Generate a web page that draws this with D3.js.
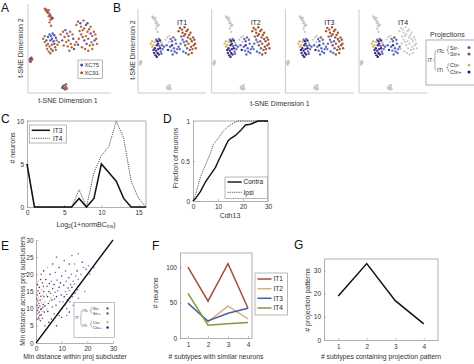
<!DOCTYPE html>
<html><head><meta charset="utf-8">
<script src="https://cdn.jsdelivr.net/npm/d3@7"></script>
<style>body{margin:0;background:#fff}svg{display:block}</style>
</head><body>
<svg id="c" width="474" height="364"></svg>
<script>
// ---------------- DATA ----------------
// t-SNE layout (normalised units, x right, y down), sample of origin for panel A
const tsneTop = [[20,3,"91"],[22,4,"91"],[23,6,"75"],[25,5,"91"],[24,8,"91"],[26,9,"91"],[27,11,"75"],[25,12,"91"],[28,13,"91"],[29,15,"91"],[27,16,"91"],[30,14,"75"],[26,19,"91"],[28,23,"91"],[23,7,"91"],[21,5,"91"]];
const tsneLeft = [[1,62,"91"],[2,61,"75"],[3,63,"91"],[2,65,"75"],[4,62,"91"],[1,64,"91"],[3,60,"75"]];
const tsneBottom = [[43,93,"91"],[45,92,"75"],[47,94,"91"],[44,96,"91"],[46,97,"75"],[48,96,"91"],[45,95,"91"],[42,95,"75"],[47,91,"91"]];
// [x, y, projection class, sample]
const tsneL = [[18,38,"C-","91"],[20,35,"C-","91"],[22,40,"C-","75"],[24,36,"C-","75"],[26,33,"S-","75"],[28,35,"C+","75"],[30,32,"S-","75"],[32,34,"C+","75"],[29,38,"C+","75"],[27,40,"C+","75"],[31,41,"S-","75"],[34,37,"C-","75"],[35,40,"S-","91"],[24,44,"C+","91"],[22,46,"C+","91"],[26,47,"C+","91"],[28,50,"C+","91"],[30,52,"C+","75"],[25,53,"C+","91"],[33,48,"S-","91"],[36,45,"S-","91"],[20,42,"C-","91"],[23,50,"C+","91"],[32,44,"C+","75"],[38,42,"S-","91"],[29,45,"C+","91"],[34,51,"S-","91"],[27,55,"C+","91"]];
const tsneM = [[40,33,"n","91"],[43,30,"n","91"],[46,28,"n","75"],[48,32,"S-","91"],[45,36,"n","91"],[50,35,"S-","75"],[52,30,"S+","91"],[55,33,"S-","91"],[42,40,"S-","75"],[47,42,"S-","91"],[50,40,"C+","91"],[53,44,"S-","91"],[56,38,"S-","75"],[58,45,"S-","91"],[49,47,"S-","91"],[44,46,"C+","91"],[57,50,"S-","75"],[60,42,"S-","91"],[54,48,"S-","91"],[51,52,"S-","91"]];
const tsneR = [[60,22,"S+","91"],[62,18,"S+","91"],[65,20,"S+","75"],[66,24,"S+","91"],[70,26,"S+","91"],[72,22,"S+","75"],[68,28,"S+","91"],[74,30,"S+","91"],[76,27,"S+","91"],[78,32,"S+","75"],[80,35,"S+","91"],[82,30,"S+","91"],[84,33,"S+","91"],[85,38,"S+","91"],[83,40,"S+","75"],[79,42,"S+","91"],[75,38,"S+","91"],[72,35,"S-","91"],[70,40,"S+","75"],[66,33,"S-","91"],[64,29,"S+","91"],[68,36,"S-","91"],[73,44,"S-","75"],[77,46,"S+","91"],[81,45,"S+","91"],[63,38,"S-","91"],[62,45,"S-","75"],[67,48,"S-","91"],[71,50,"S-","91"],[75,52,"S+","91"],[80,50,"S+","91"],[86,44,"S+","91"],[69,17,"S+","91"],[74,20,"S+","75"],[78,24,"S+","91"]];
const itNames = ["IT1","IT2","IT3","IT4"];
const itColoredRegions = [["L","M","R"],["L","M","R"],["L","M","R"],["L","M"]];

// Panel C
const cX = [0,1,2,3,4,5,6,7,8,9,10,11,12,13,14,15,16];
const cIT3 = [5,0,0,0,0,0,0,1,0,1,5,4,3,1,0,0,0];
const cIT4 = [5,0,0,0,0,0,0,2,0,4,6,7,10,8,3,1,0];
// Panel D
const contraX = [0,1,3,5,7,9,10,12,14,15,17,19,21,23,26,30];
const contraY = [0,0.03,0.12,0.24,0.33,0.42,0.49,0.62,0.75,0.78,0.82,0.88,0.95,0.96,1,1];
const ipsiX = [0,1,3,5,7,8,10,12,14,16,18,30];
const ipsiY = [0,0.08,0.3,0.45,0.6,0.7,0.78,0.87,0.93,0.97,1,1];
// Panel E: [within, across, class]  a=Str- b=Str+ c=Ctx- d=Ctx+
const ePts = [[0.5,7,"d"],[1,7.5,"b"],[1.5,8,"d"],[0.8,8.5,"b"],[2,8.2,"d"],[2.5,7.2,"b"],[1.2,9,"d"],[0.6,9.5,"b"],[1.8,9.8,"d"],[2.3,9.2,"c"],[0.9,10.3,"d"],[1.5,10.8,"b"],[2.7,10.5,"d"],[0.4,11,"d"],[1.1,11.5,"b"],[2,11.8,"c"],[2.8,11.2,"d"],[0.7,12.2,"b"],[1.6,12.5,"d"],[2.4,12.8,"c"],[1,13.2,"c"],[1.9,13.6,"d"],[0.5,14,"b"],[2.6,14,"c"],[1.4,14.5,"d"],[0.8,15.2,"b"],[2.1,15.5,"c"],[1.3,16.2,"d"],[2.9,16.5,"b"],[0.6,17,"d"],[3.2,9,"d"],[3.4,12,"c"],[3.1,13.5,"b"],[1.7,6.5,"d"],[2.2,10,"b"],[0.3,12.8,"d"],[3.5,10.8,"d"],[1.2,7,"b"],[3,15,"d"],[2.5,17.5,"b"],[1.8,18.5,"d"],[0.9,18,"c"],
[4.2,10,"c"],[4.8,11.5,"d"],[5.3,12.2,"c"],[5.8,13,"c"],[6.2,12.5,"d"],[6.8,13.8,"c"],[7.2,12.8,"b"],[4.5,13.5,"d"],[5,15,"d"],[5.6,14.5,"b"],[6.5,15.8,"d"],[7.5,14.8,"a"],[8,13.5,"d"],[8.5,15.2,"a"],[9,16.2,"d"],[4.3,16.5,"b"],[5.2,17.3,"d"],[6,18,"a"],[7,17,"d"],[8.2,18.3,"a"],[9.5,17.5,"d"],[4.6,9.2,"d"],[6.4,10.5,"b"],[7.8,11,"d"],[9.2,12,"a"],[5.5,20,"d"],[7.5,20.5,"a"],[3.8,18.5,"d"],[9.8,14,"d"],[4,14,"c"],
[10.5,12,"a"],[11,13.5,"d"],[11.5,15,"a"],[12,14.2,"a"],[12.5,16,"d"],[13,15.3,"a"],[13.5,17,"a"],[14,16.2,"d"],[14.5,18,"a"],[15,17.2,"a"],[10.8,16.8,"d"],[11.8,18,"a"],[12.8,19,"d"],[13.8,20,"a"],[15.5,19.5,"a"],[16,21,"d"],[16.5,18.5,"a"],[10.2,10,"b"],[11.2,11,"a"],[12.2,12.5,"d"],[13.2,12,"a"],[14.2,13.5,"a"],[15.2,14.5,"d"],[16.2,15.5,"a"],[17,17,"a"],[10,19.5,"d"],[11.5,21,"a"],[17.5,20,"a"],[18.5,22,"a"],[19.5,21.5,"d"],[20.5,22.5,"a"],[18,23.5,"d"],[15,23,"a"],[14.5,11,"a"],[16.5,13,"a"],[12,10,"a"],[13,9,"d"],
[8,5,"d"],[9,8,"b"],[10,7.5,"d"],[12,8,"a"],[6,7,"d"],[7,8.5,"b"],[16.5,26,"a"],[13,23,"d"],[21,20,"a"],[22.5,22,"a"],[11,24,"b"],[9,22,"d"],[3,21,"d"],[2,20,"b"],[14,25.5,"a"],[18,11.5,"a"],[19,15,"a"],[17,9,"a"],[4.5,22,"c"],[6.5,23,"d"],[8,25,"a"],[5,6,"d"],[3.5,5,"b"]];
// Panel F
const fX = [1,2,3,4];
const fSeries = ["IT1","IT2","IT3","IT4"];
const fIT1 = [100,52,105,42];
const fIT2 = [49,23,45,27];
const fIT3 = [49,24,35,42];
const fIT4 = [63,18,20,22];
// Panel G
const gX = [1,2,3,4];
const gY = [19,33,17,7];

// ---------------- DRAWING ----------------
const FONT = '"Liberation Sans", Arial, Helvetica, sans-serif';
const svg = d3.select("#c").attr("font-family", FONT);
const AX = "#9a9a9a";
const projColor = {"S-":"#4b5cb8","S+":"#9a4420","C-":"#cdb85e","C+":"#2e1470"};
const eColor = {a:"#5565b8",b:"#8a3c1c",c:"#c8b45a",d:"#2e1470"};
const sampleColor = {"75":"#3a4aa8","91":"#b0552e"};
const GRAY = "#c6c6c6";
const intFmt = d3.format("d");

function txt(x, y, s, fs, opt={}) {
  const t = svg.append("text").attr("x", x).attr("y", y).attr("font-size", fs)
    .attr("fill", opt.fill || "#222").attr("text-anchor", opt.anchor || "start").text(s);
  if (opt.rot) t.attr("transform", `rotate(-90,${x},${y})`);
  return t;
}

function axes(x, y, xt, yt, box, opt={}) {
  const g = svg.append("g");
  const [xa, xb] = x.range(), [yb, ya] = y.range();
  const fs = opt.fs || 6.5;
  g.append("g").attr("transform", `translate(0,${yb})`)
    .call(d3.axisBottom(x).tickValues(xt).tickSizeInner(-2).tickSizeOuter(0).tickPadding(opt.xpad || 3).tickFormat(opt.xfmt || intFmt));
  g.append("g").attr("transform", `translate(${xa},0)`)
    .call(d3.axisLeft(y).tickValues(yt).tickSizeInner(-2).tickSizeOuter(0).tickPadding(opt.ypad || 3).tickFormat(opt.yfmt || intFmt));
  if (box) {
    g.append("line").attr("x1", xa).attr("x2", xb).attr("y1", ya).attr("y2", ya).attr("stroke", AX).attr("stroke-width", 0.8);
    g.append("line").attr("x1", xb).attr("x2", xb).attr("y1", ya).attr("y2", yb).attr("stroke", AX).attr("stroke-width", 0.8);
  }
  g.selectAll(".domain").attr("stroke", AX).attr("stroke-width", 0.8);
  g.selectAll(".tick line").attr("stroke", AX).attr("stroke-width", 0.6);
  g.selectAll(".tick text").attr("font-size", fs).attr("fill", "#333").attr("font-family", FONT);
  g.attr("font-family", FONT);
  return g;
}

function plainFrame(x0, x1, y0, y1) {
  svg.append("path").attr("d", `M${x0},${y0}V${y1}H${x1}`).attr("fill", "none").attr("stroke", "#bdbdbd").attr("stroke-width", 0.8);
}

function brace(x, y1, y2) {
  const ym = (y1 + y2) / 2, w = 1.4, c = 1.4;
  return `M${x+w},${y1}Q${x},${y1} ${x},${y1+c}L${x},${ym-c}Q${x},${ym} ${x-w},${ym}Q${x},${ym} ${x},${ym+c}L${x},${y2-c}Q${x},${y2} ${x+w},${y2}`;
}

function projLegend(tx, ty, s, w) {
  const g = svg.append("g").attr("transform", `translate(${tx},${ty}) scale(${s})`);
  g.append("rect").attr("x", 0).attr("y", 0).attr("width", w).attr("height", 45).attr("fill", "#fff").attr("stroke", "#999").attr("stroke-width", 0.8);
  const t = (x, y, str) => g.append("text").attr("x", x).attr("y", y).attr("font-size", 5.5).attr("fill", "#333").text(str);
  t(1.5, 21.5, "IT");
  t(11, 12.5, "ITc");
  t(11, 32, "ITi");
  g.append("path").attr("d", brace(9, 10.5, 30)).attr("fill", "none").attr("stroke", "#555").attr("stroke-width", 0.5);
  g.append("path").attr("d", brace(22, 6, 14)).attr("fill", "none").attr("stroke", "#555").attr("stroke-width", 0.5);
  g.append("path").attr("d", brace(22, 23.5, 31.5)).attr("fill", "none").attr("stroke", "#555").attr("stroke-width", 0.5);
  const labs = ["Str-","Str+","Ctx-","Ctx+"], keys = ["S-","S+","C-","C+"], ys = [7.5,14,25,32];
  labs.forEach((l, i) => {
    t(24, ys[i] + 2, l);
    g.append("circle").attr("cx", 43).attr("cy", ys[i]).attr("r", 1.5).attr("fill", projColor[keys[i]]);
  });
}

// ----- Panel A -----
{
  const x = d3.scaleLinear([0,100],[29,108]);
  const y = d3.scaleLinear([0,100],[6,92]);
  plainFrame(28, 111, 4, 93);
  const all = [...tsneTop.map(d=>({x:d[0],y:d[1],s:d[2]})), ...tsneLeft.map(d=>({x:d[0],y:d[1],s:d[2]})),
    ...tsneBottom.map(d=>({x:d[0],y:d[1],s:d[2]})), ...[...tsneL,...tsneM,...tsneR].map(d=>({x:d[0],y:d[1],s:d[3]}))];
  svg.append("g").selectAll("circle").data(all).join("circle")
    .attr("cx", d=>x(d.x)).attr("cy", d=>y(d.y)).attr("r", 1.2).attr("fill", d=>sampleColor[d.s]).attr("opacity", 0.9);
  svg.append("rect").attr("x", 78).attr("y", 60).attr("width", 24.5).attr("height", 18.5).attr("fill", "#fff").attr("stroke", "#999").attr("stroke-width", 0.7);
  svg.append("circle").attr("cx", 81.7).attr("cy", 65).attr("r", 1.5).attr("fill", sampleColor["75"]);
  svg.append("circle").attr("cx", 81.7).attr("cy", 72.8).attr("r", 1.5).attr("fill", sampleColor["91"]);
  txt(84.5, 67.2, "XC75", 5.8, {fill:"#333"});
  txt(84.5, 75, "XC91", 5.8, {fill:"#333"});
  txt(68, 102.5, "t-SNE Dimension 1", 7, {anchor:"middle", fill:"#333"});
  txt(22.5, 48, "t-SNE Dimension 2", 7, {anchor:"middle", rot:true, fill:"#333"});
  txt(1, 12, "A", 12, {fill:"#111"});
}

// ----- Panel B -----
{
  const lefts = [138, 211.7, 285.4, 359];
  itNames.forEach((name, i) => {
    const L = lefts[i];
    const x = d3.scaleLinear([0,100],[L+1, L+67]);
    const y = d3.scaleLinear([0,100],[14, 92]);
    plainFrame(L, L+68, 9, 93);
    const gray = [...tsneTop, ...tsneLeft, ...tsneBottom].map(d=>({x:d[0],y:d[1]}));
    const col = [];
    [["L",tsneL],["M",tsneM],["R",tsneR]].forEach(([r, arr]) => {
      arr.forEach(d => {
        if (itColoredRegions[i].includes(r) && d[2] !== "n") col.push({x:d[0],y:d[1],p:d[2]});
        else gray.push({x:d[0],y:d[1]});
      });
    });
    const g = svg.append("g");
    g.selectAll(".g").data(gray).join("circle").attr("cx", d=>x(d.x)).attr("cy", d=>y(d.y)).attr("r", 1.1).attr("fill", GRAY);
    g.selectAll(".c").data(col).join("circle").attr("cx", d=>x(d.x)).attr("cy", d=>y(d.y)).attr("r", 1.2).attr("fill", d=>projColor[d.p]).attr("opacity", 0.9);
    txt(L + 44, 24.5, name, 7, {anchor:"middle", fill:"#222"});
  });
  txt(280, 105.5, "t-SNE Dimension 1", 7, {anchor:"middle", fill:"#333"});
  txt(134.5, 50, "t-SNE Dimension 2", 7, {anchor:"middle", rot:true, fill:"#333"});
  txt(430, 37, "Projections", 7, {fill:"#333"});
  projLegend(426, 40, 1, 52);
  txt(113, 12, "B", 12, {fill:"#111"});
}

// ----- Panel C -----
{
  const x = d3.scaleLinear([0,16],[27,146]);
  const y = d3.scaleLinear([0,10],[207,121]);
  axes(x, y, [0,5,10,15], [0,5,10], true);
  const line = d3.line().x((d,i)=>x(cX[i])).y(d=>y(d));
  svg.append("path").attr("d", line(cIT4)).attr("fill","none").attr("stroke","#555").attr("stroke-width",1).attr("stroke-dasharray","1.2,1");
  svg.append("path").attr("d", line(cIT3)).attr("fill","none").attr("stroke","#111").attr("stroke-width",1.5);
  svg.append("rect").attr("x",29.3).attr("y",125).attr("width",37).attr("height",18).attr("fill","#fff").attr("stroke","#999").attr("stroke-width",0.7);
  svg.append("line").attr("x1",31.7).attr("x2",50).attr("y1",130.3).attr("y2",130.3).attr("stroke","#111").attr("stroke-width",1.5);
  svg.append("line").attr("x1",31.7).attr("x2",50).attr("y1",138.3).attr("y2",138.3).attr("stroke","#555").attr("stroke-width",1).attr("stroke-dasharray","1.2,1");
  txt(53, 132.5, "IT3", 6.5, {fill:"#222"});
  txt(53, 140.5, "IT4", 6.5, {fill:"#222"});
  const t = txt(86, 226.5, "", 7, {anchor:"middle", fill:"#333"});
  t.append("tspan").text("Log");
  t.append("tspan").attr("font-size",5).attr("dy",1.5).text("2");
  t.append("tspan").attr("dy",-1.5).text("(1+normBC");
  t.append("tspan").attr("font-size",5).attr("dy",1.5).text("ins");
  t.append("tspan").attr("dy",-1.5).text(")");
  txt(15, 148, "# neurons", 7, {anchor:"middle", rot:true, fill:"#333"});
  txt(1, 123, "C", 12, {fill:"#111"});
}

// ----- Panel D -----
{
  const x = d3.scaleLinear([0,30],[193,268]);
  const y = d3.scaleLinear([0,1],[201,121]);
  axes(x, y, [0,10,20,30], [0,0.5,1], true, {yfmt: d=>String(d)});
  const lc = d3.line().x((d,i)=>x(contraX[i])).y(d=>y(d));
  const li = d3.line().x((d,i)=>x(ipsiX[i])).y(d=>y(d));
  svg.append("path").attr("d", li(ipsiY)).attr("fill","none").attr("stroke","#555").attr("stroke-width",1).attr("stroke-dasharray","1.2,1");
  svg.append("path").attr("d", lc(contraY)).attr("fill","none").attr("stroke","#111").attr("stroke-width",1.4);
  svg.append("rect").attr("x",225).attr("y",177).attr("width",42.5).attr("height",21.5).attr("fill","#fff").attr("stroke","#999").attr("stroke-width",0.7);
  svg.append("line").attr("x1",227.5).attr("x2",241.7).attr("y1",182).attr("y2",182).attr("stroke","#111").attr("stroke-width",1.4);
  svg.append("line").attr("x1",227.5).attr("x2",241.7).attr("y1",192.3).attr("y2",192.3).attr("stroke","#555").attr("stroke-width",1).attr("stroke-dasharray","1.2,1");
  txt(243.5, 184.3, "Contra", 6.5, {fill:"#222"});
  txt(243.5, 194.6, "Ipsi", 6.5, {fill:"#222"});
  txt(230, 218, "Cdh13", 7, {anchor:"middle", fill:"#333"});
  txt(177.5, 158, "Fraction of neurons", 7, {anchor:"middle", rot:true, fill:"#333"});
  txt(163, 123, "D", 12, {fill:"#111"});
}

// ----- Panel E -----
{
  const x = d3.scaleLinear([0,30],[36,113]);
  const y = d3.scaleLinear([0,30],[343,240]);
  axes(x, y, [0,10,20,30], [0,5,10,15,20,25,30], false, {ypad:2.5});
  svg.append("g").selectAll("circle").data(ePts).join("circle")
    .attr("cx", d=>x(d[0])).attr("cy", d=>y(d[1])).attr("r", 0.8).attr("fill", d=>eColor[d[2]]).attr("opacity", 0.85);
  const diag = [0,30];
  svg.append("path").attr("d", d3.line().x(d=>x(d)).y(d=>y(d))(diag)).attr("stroke","#111").attr("stroke-width",1.3).attr("fill","none");
  projLegend(74, 302.5, 0.78, 52);
  txt(75, 359, "Min distance within proj subcluster", 6.8, {anchor:"middle", fill:"#333"});
  txt(24.5, 291, "Min distance across proj subclusters", 6.8, {anchor:"middle", rot:true, fill:"#333"});
  txt(1, 250, "E", 12, {fill:"#111"});
}

// ----- Panel F -----
{
  const x = d3.scaleLinear([0.6,4.2],[180,252]);
  const y = d3.scaleLinear([0,120],[338,253]);
  axes(x, y, fX, [0,50,100], true, {xpad:4});
  const colors = ["#a34b3c","#d9b07a","#4b5bab","#7d9c3e"];
  const series = [fIT1, fIT2, fIT3, fIT4];
  const line = d3.line().x((d,i)=>x(fX[i])).y(d=>y(d));
  series.forEach((s, i) => {
    svg.append("path").attr("d", line(s)).attr("fill","none").attr("stroke",colors[i]).attr("stroke-width",1.5);
  });
  svg.append("rect").attr("x",255).attr("y",273).attr("width",32.5).attr("height",42).attr("fill","#fff").attr("stroke","#999").attr("stroke-width",0.7);
  const ly = [279, 288.7, 298.3, 308];
  fSeries.forEach((n, i) => {
    svg.append("line").attr("x1",257.5).attr("x2",271.5).attr("y1",ly[i]).attr("y2",ly[i]).attr("stroke",colors[i]).attr("stroke-width",1.5);
    txt(273.5, ly[i] + 2.3, n, 6.5, {fill:"#222"});
  });
  txt(216, 359, "# subtypes with similar neurons", 6.8, {anchor:"middle", fill:"#333"});
  txt(158, 293, "# neurons", 7, {anchor:"middle", rot:true, fill:"#333"});
  txt(152, 250, "F", 12, {fill:"#111"});
}

// ----- Panel G -----
{
  const x = d3.scaleLinear([0.5,4.5],[324,438]);
  const y = d3.scaleLinear([0,35],[340,259]);
  axes(x, y, gX, [0,10,20,30], true, {xpad:4});
  svg.append("path").attr("d", d3.line().x((d,i)=>x(gX[i])).y(d=>y(d))(gY)).attr("fill","none").attr("stroke","#111").attr("stroke-width",1.5);
  txt(381, 359, "# subtypes containing projection pattern", 6.8, {anchor:"middle", fill:"#333"});
  txt(310, 300, "# projection patterns", 7, {anchor:"middle", rot:true, fill:"#333"});
  txt(294, 249, "G", 12, {fill:"#111"});
}
</script>
</body></html>
